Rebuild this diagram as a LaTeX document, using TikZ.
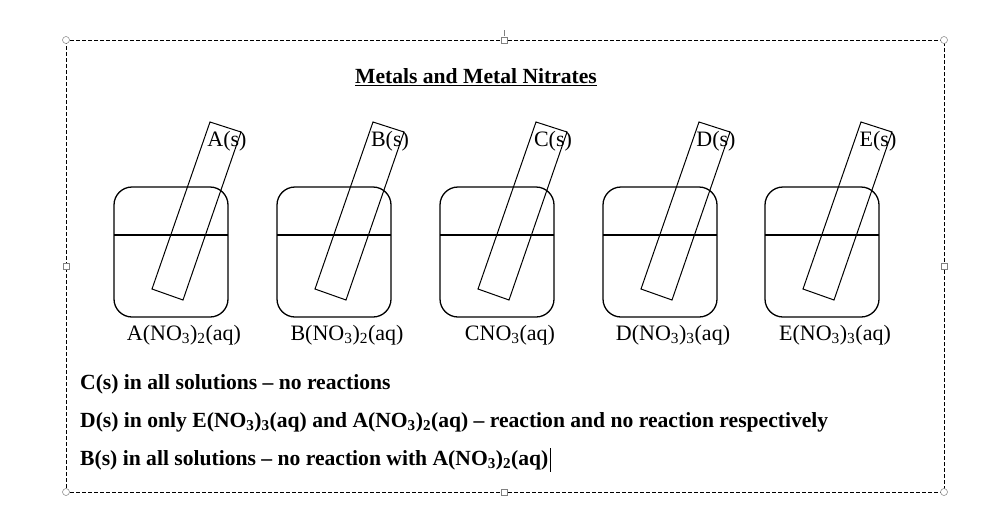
\documentclass[tikz,border=0pt]{standalone}
\usepackage{fontspec}
\setmainfont{Liberation Serif}
\newcommand{\sbs}[1]{\textsubscript{#1}}
\begin{document}
\begin{tikzpicture}[x=1pt,y=-1pt,
  beaker/.style={draw,line width=1.3pt,rounded corners=18pt},
  rod/.style={draw,line width=1pt},
  lbl/.style={font=\fontsize{22}{26}\selectfont,inner sep=0pt},
  txt/.style={font=\bfseries\fontsize{21.6}{26}\selectfont,anchor=west,inner sep=0pt},
  handle/.style={draw=gray,fill=white,line width=0.5pt}]
\useasboundingbox (0,0) rectangle (998,517);
\draw[dash pattern=on 4pt off 2pt,line width=0.7pt] (66,40) rectangle (944,492);
\foreach \p in {(66,40),(944,40),(66,492),(944,492)} \draw[handle] \p circle (3.5);
\foreach \p in {(504,40),(504,492),(66,266),(944,266)} \draw[handle] \p ++(-3,-3) rectangle ++(6,6);
\draw[gray] (504,30) -- (504,36);
\node[font=\bfseries\fontsize{21.6}{26}\selectfont,inner sep=0pt] (title) at (476,77) {\underline{Metals and Metal Nitrates}};
\foreach \x/\m/\sol [count=\i] in {114/A/A(NO\sbs{3})\sbs{2}(aq),277/B/B(NO\sbs{3})\sbs{2}(aq),440/C/CNO\sbs{3}(aq),603/D/D(NO\sbs{3})\sbs{3}(aq),765/E/E(NO\sbs{3})\sbs{3}(aq)}{
  \draw[beaker] (\x,187) rectangle (\x+114,317);
  \draw[line width=1.3pt] (\x,235) -- (\x+114,235);
  \draw[rod] (\x+96,122) -- (\x+127,132) -- (\x+69,300) -- (\x+38,289) -- cycle;
  \node[lbl] (m\i) at (\x+113,141) {\m(s)};
  \node[lbl] (s\i) at (\x+70,335) {\sol};
}
\node[txt] (t1) at (80,384) {C(s) in all solutions -- no reactions};
\node[txt] (t2) at (80,422) {D(s) in only E(NO\sbs{3})\sbs{3}(aq) and A(NO\sbs{3})\sbs{2}(aq) -- reaction and no reaction respectively};
\node[txt] (t3) at (80,460) {B(s) in all solutions -- no reaction with A(NO\sbs{3})\sbs{2}(aq)};
\draw ([xshift=2pt]t3.east) ++(0,-12) -- ++(0,24);
\end{tikzpicture}
\end{document}
